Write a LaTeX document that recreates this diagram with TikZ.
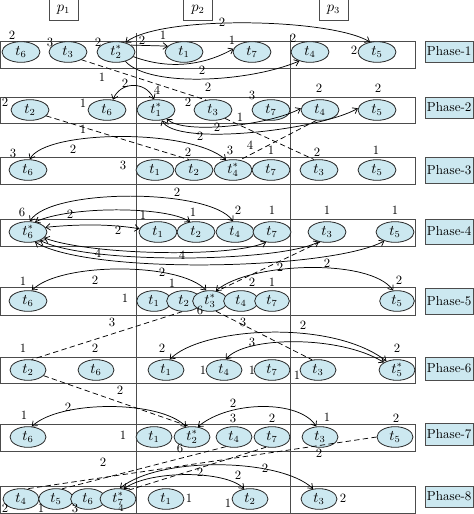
\documentclass[tikz,border=0pt]{standalone}
\usetikzlibrary{shapes.geometric,arrows.meta}
\definecolor{tf}{RGB}{204,232,240}
\begin{document}
\begin{tikzpicture}[x=0.75pt,y=-0.75pt,
 task/.style={ellipse,draw=black!85,fill=tf,line width=0.6pt,minimum width=28.5pt,minimum height=15.5pt,inner sep=0pt,font=\fontsize{10.5}{12}\selectfont},
 lab/.style={font=\fontsize{9.5}{10}\selectfont,inner sep=0pt},
 band/.style={draw=black!70,line width=0.6pt},
 hdr/.style={draw=black!70,line width=0.6pt,minimum width=21.75pt,minimum height=15.75pt,inner sep=0pt,font=\fontsize{10.5}{12}\selectfont},
 phase/.style={draw=black!70,fill=tf,line width=0.6pt},
 edge/.style={line width=0.55pt,-{Straight Barb[length=3.2pt,width=5pt]}},
 bedge/.style={line width=0.55pt,{Straight Barb[length=3.2pt,width=5pt]}-{Straight Barb[length=3.2pt,width=5pt]}},
 dedge/.style={line width=0.55pt,dash pattern=on 4pt off 2.5pt}]
\useasboundingbox (0,0) rectangle (474,514);
% bands
\foreach \t/\b in {41/68,97/123,157/184,219/246,287/315,357/383,424/451,486/513}
  \draw[band] (0.5,\t) rectangle (415,\b);
\draw[band] (136,33) -- (136,514);
\draw[band] (290,35) -- (290,514);
% headers
\node[hdr] (h1) at (63.5,10) {$p_1$};
\node[hdr] (h2) at (198,10) {$p_2$};
\node[hdr] (h3) at (333.5,10) {$p_3$};
% phase labels
\foreach \t/\b/\n in {41/62/1,97/118/2,157/183/3,219/244/4,288/314/5,357/380/6,423/445/7,486/507/8}{
  \draw[phase] (425,\t) rectangle (473.5,\b);
  \node[lab,font=\fontsize{9.8}{11}\selectfont] at (449.2,{(\t+\b)/2}) {Phase-\n};
}
% Phase 1
\node[task] (p1t6) at (21,52) {$t_6$};
\node[task] (p1t3) at (68,52) {$t_3$};
\node[task] (p1t2) at (116,52) {$t_2^*$};
\node[task] (p1t1) at (184,52) {$t_1$};
\node[task] (p1t7) at (252,52) {$t_7$};
\node[task] (p1t4) at (310,52) {$t_4$};
\node[task] (p1t5) at (377,52) {$t_5$};
% Phase 2
\node[task] (p2t2) at (30,110) {$t_2$};
\node[task] (p2t6) at (107,110) {$t_6$};
\node[task] (p2t1) at (156,110) {$t_1^*$};
\node[task] (p2t3) at (213,110) {$t_3$};
\node[task] (p2t7) at (271,110) {$t_7$};
\node[task] (p2t4) at (320,110) {$t_4$};
\node[task] (p2t5) at (377,110) {$t_5$};
% Phase 3
\node[task] (p3t6) at (28,170) {$t_6$};
\node[task] (p3t1) at (155,170) {$t_1$};
\node[task] (p3t2) at (194,170) {$t_2$};
\node[task] (p3t4) at (233,170) {$t_4^*$};
\node[task] (p3t7) at (271,170) {$t_7$};
\node[task] (p3t3) at (319,170) {$t_3$};
\node[task] (p3t5) at (377,170) {$t_5$};
% Phase 4
\node[task] (p4t6) at (28,232) {$t_6^*$};
\node[task] (p4t1) at (158,232) {$t_1$};
\node[task] (p4t2) at (196,232) {$t_2$};
\node[task] (p4t4) at (235,232) {$t_4$};
\node[task] (p4t7) at (272,232) {$t_7$};
\node[task] (p4t3) at (327,232) {$t_3$};
\node[task] (p4t5) at (395,232) {$t_5$};
% Phase 5
\node[task] (p5t6) at (28,301) {$t_6$};
\node[task,minimum width=26pt] (p5t1) at (154,301) {$t_1$};
\node[task,minimum width=26pt] (p5t2) at (184,301) {$t_2$};
\node[task,minimum width=26pt] (p5t3) at (210,301) {$t_3^*$};
\node[task,minimum width=26pt] (p5t4) at (241,301) {$t_4$};
\node[task,minimum width=26pt] (p5t7) at (272,301) {$t_7$};
\node[task,minimum width=26pt] (p5t5) at (397,301) {$t_5$};
% Phase 6
\node[task,minimum width=27pt] (p6t2) at (28,370) {$t_2$};
\node[task,minimum width=27pt] (p6t6) at (96,370) {$t_6$};
\node[task,minimum width=27pt] (p6t1) at (166,370) {$t_1$};
\node[task,minimum width=27pt] (p6t4) at (224,370) {$t_4$};
\node[task,minimum width=27pt] (p6t7) at (272,370) {$t_7$};
\node[task,minimum width=27pt] (p6t3) at (318,370) {$t_3$};
\node[task,minimum width=27pt] (p6t5) at (397,370) {$t_5^*$};
% Phase 7
\node[task,minimum width=27pt] (p7t6) at (28,437) {$t_6$};
\node[task,minimum width=27pt] (p7t1) at (154,437) {$t_1$};
\node[task,minimum width=27pt] (p7t2) at (192,437) {$t_2^*$};
\node[task,minimum width=27pt] (p7t4) at (234,437) {$t_4$};
\node[task,minimum width=27pt] (p7t7) at (272,437) {$t_7$};
\node[task,minimum width=27pt] (p7t3) at (320,437) {$t_3$};
\node[task,minimum width=27pt] (p7t5) at (395,437) {$t_5$};
% Phase 8
\node[task,minimum width=27pt] (p8t4) at (21,499) {$t_4$};
\node[task,minimum width=26pt] (p8t5) at (56,499) {$t_5$};
\node[task,minimum width=26pt] (p8t6) at (88,499) {$t_6$};
\node[task,minimum width=27pt] (p8t7) at (118,499) {$t_7^*$};
\node[task,minimum width=27pt] (p8t1) at (166,499) {$t_1$};
\node[task,minimum width=27pt] (p8t2) at (250,499) {$t_2$};
\node[task,minimum width=27pt] (p8t3) at (319,499) {$t_3$};
% edges phase 1
\draw[bedge] (p1t2.45) .. controls (160,15) and (330,18) .. (p1t5.125);
\draw[edge] (p1t2.25) -- (p1t1.160);
\draw[edge] (p1t2.-15) .. controls (175,72) and (210,62) .. (p1t7.170);
\draw[edge] (p1t2.-45) .. controls (150,88) and (250,82) .. (p1t4.-140);
\draw[dedge] (p1t3.-30) -- (p2t3.125);
% phase 2
\draw[bedge] (p2t6.60) .. controls (120,82) and (145,80) .. (p2t1.100);
\draw[bedge] (p2t1.-40) .. controls (185,135) and (270,125) .. (p2t4.175);
\draw[bedge] (p2t1.-60) .. controls (175,147) and (320,130) .. (p2t5.175);
\draw[dedge] (p2t2.-20) -- (p3t2.115);
\draw[dedge] (p2t3.-35) -- (p3t3.115);
\draw[dedge] (p2t4.-110) -- (p3t4.55);
% phase 3
\draw[bedge] (p3t6.80) .. controls (45,130) and (190,128) .. (p3t4.125);
% phase 4
\draw[bedge] (p4t6.80) .. controls (50,188) and (210,188) .. (p4t4.100);
\draw[bedge] (p4t6.55) .. controls (70,206) and (165,206) .. (p4t2.120);
\draw[bedge] (p4t6.15) .. controls (80,224) and (110,224) .. (p4t1.170);
\draw[bedge] (p4t6.-20) .. controls (90,255) and (230,258) .. (p4t7.-120);
\draw[bedge] (p4t6.-35) .. controls (90,265) and (280,262) .. (p4t3.-130);
\draw[bedge] (p4t6.-55) .. controls (90,275) and (330,270) .. (p4t5.-140);
\draw[dedge] (p4t3.-125) -- (p5t3.55);
% phase 5
\draw[bedge] (p5t6.70) .. controls (60,262) and (180,262) .. (p5t3.110);
\draw[bedge] (p5t3.60) .. controls (250,262) and (370,258) .. (p5t5.110);
\draw[dedge] (p5t2.-100) -- (p6t2.70);
\draw[dedge] (p5t3.-60) -- (p6t3.120);
% phase 6
\draw[bedge] (p6t5.140) .. controls (330,318) and (200,328) .. (p6t1.70);
\draw[bedge] (p6t5.150) .. controls (340,335) and (245,336) .. (p6t4.80);
\draw[dedge] (p6t2.-20) -- (p7t2.105);
% phase 7
\draw[bedge] (p7t6.70) .. controls (60,400) and (160,400) .. (p7t2.120);
\draw[bedge] (p7t2.60) .. controls (230,400) and (300,400) .. (p7t3.110);
\draw[dedge] (p7t5.180) -- (p8t4.60);
\draw[dedge] (p7t7.-120) -- (p8t7.40);
\draw[dedge] (p7t4.-130) -- (p8t5.60);
% phase 8
\draw[bedge] (p8t7.60) .. controls (150,470) and (225,470) .. (p8t2.120);
\draw[bedge] (p8t7.80) .. controls (160,456) and (280,458) .. (p8t3.120);
% labels
\foreach \x/\y/\s in {12/35/2,50/42/3,98/42/2,142/40/2,163/35/1,232/40/1,293/38/2,354/50/2,222/22/2,202/70/2,102/77/1,208/87/2,
 5/102/2,83/103/1,125/83/2,157/90/4,188/102/2,252/95/3,319/88/2,378/88/2,240/117/1,217/127/2,200/136/2,
 13/153/3,73/149/2,83/129/1,123/165/3,188/152/2,230/150/3,250/145/4,271/150/1,317/152/2,376/150/1,
 22/212/6,70/214/2,177/192/2,118/230/2,143/215/1,193/212/1,238/210/2,272/210/1,327/210/1,395/210/1,98/253/4,182/255/4,
 23/281/1,95/280/2,162/272/2,172/283/1,252/282/2,272/282/1,280/267/2,327/263/2,399/280/2,125/298/1,200/310/6,112/322/3,243/322/3,
 23/348/1,95/348/2,162/348/2,203/370/1,252/370/1,297/375/1,397/348/2,303/325/2,252/342/3,
 24/415/1,68/407/2,120/390/2,123/435/1,233/418/3,272/418/2,233/403/2,327/417/1,396/418/2,180/448/6,103/462/2,319/453/2,
 5/508/2,41/508/1,75/508/3,189/498/1,228/503/1,343/498/2,200/472/2,238/475/2,265/468/2}
  \node[lab] at (\x,\y) {\s};
\node[lab,font=\fontsize{7.5}{8}\selectfont] at (121,508.5) {4};
\end{tikzpicture}
\end{document}
